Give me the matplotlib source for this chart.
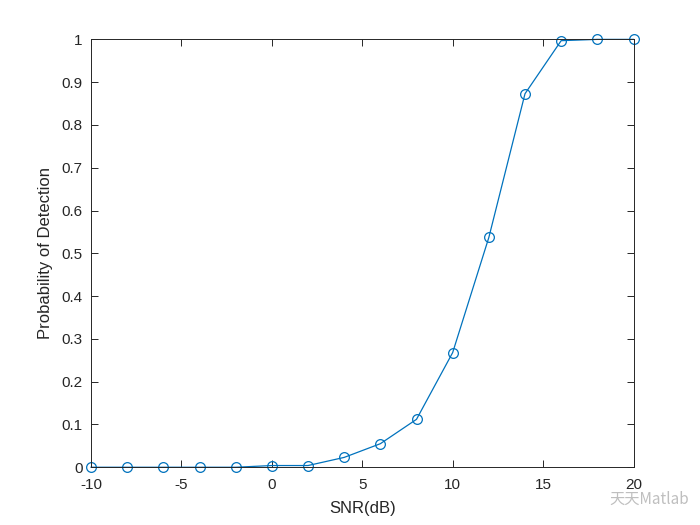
import matplotlib
matplotlib.use("Agg")
import matplotlib.pyplot as plt

snr_db = [-10, -8, -6, -4, -2, 0, 2, 4, 6, 8, 10, 12, 14, 16, 18, 20]
pd_vals = [0.0, 0.0, 0.0, 0.0, 0.0, 0.004, 0.004, 0.023, 0.055, 0.112,
           0.268, 0.537, 0.873, 0.997, 1.0, 1.0]
x_ticks = [-10, -5, 0, 5, 10, 15, 20]
y_ticks = [0, 0.1, 0.2, 0.3, 0.4, 0.5, 0.6, 0.7, 0.8, 0.9, 1]
y_labels = ["0", "0.1", "0.2", "0.3", "0.4", "0.5", "0.6", "0.7", "0.8", "0.9", "1"]

plt.rcParams['font.family'] = ['Liberation Sans', 'DejaVu Sans']

fig = plt.figure(figsize=(7, 5.25), dpi=100)
ax = fig.add_axes([0.13, 0.11, 0.775, 0.815])

ax.plot(snr_db, pd_vals, '-o', color='#0072BD', linewidth=0.9,
        markersize=7, markerfacecolor='none', markeredgewidth=0.9, clip_on=False)

ax.set_xlim(-10, 20)
ax.set_ylim(0, 1)
ax.set_xticks(x_ticks)
ax.set_xticklabels([str(t) for t in x_ticks])
ax.set_yticks(y_ticks)
ax.set_yticklabels(y_labels)
ax.tick_params(direction='in', top=True, right=True, labelsize=11, length=5,
               width=0.7, colors='#262626', pad=6)
ax.tick_params(axis='x', pad=8)
for s in ax.spines.values():
    s.set_linewidth(0.7)
    s.set_color('#262626')

ax.set_xlabel('SNR(dB)', fontsize=12, color='#262626', labelpad=6)
ax.set_ylabel('Probability of Detection', fontsize=12, color='#262626', labelpad=6)

# watermark
fig.text(0.87, 0.04, '天天Matlab', fontsize=11, color='#b8b8b8',
         family=['Noto Sans CJK SC', 'DejaVu Sans'], alpha=0.9)

fig.savefig('out.png', dpi=100)
